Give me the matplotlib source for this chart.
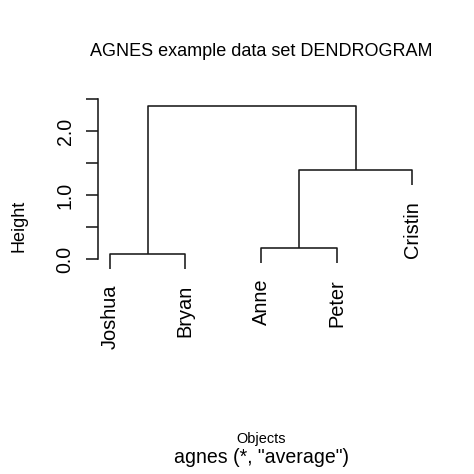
import matplotlib
matplotlib.use('Agg')
import matplotlib.pyplot as plt
import numpy as np

plt.rcParams['font.family'] = ['Liberation Sans', 'DejaVu Sans']

labels = ['Joshua', 'Bryan', 'Anne', 'Peter', 'Cristin']
# merge steps as in R's hclust: negative = leaf (1-based), positive = earlier step
merge = [(-1, -2), (-3, -4), (2, -5), (1, 3)]
heights = [0.08, 0.17, 1.39, 2.39]
hang = 0.23
yticks = [0.0, 0.5, 1.0, 1.5, 2.0, 2.5]
ytick_labels = ['0.0', '', '1.0', '', '2.0', '']

title = 'AGNES example data set DENDROGRAM'
xlab = 'Objects'
ylab = 'Height'
sub = 'agnes (*, "average")'

W = 474
fig = plt.figure(figsize=(W / 72, W / 72), dpi=72)
ax = fig.add_axes([97.6 / W, 1 - 353 / W, (424.4 - 97.6) / W, (353 - 99.3) / W])

lc = '#1a1a1a'
lw = 1.6
leafx = np.arange(1, len(labels) + 1)
nodex, nodey = {}, {}
leafbottom = {}
for i, (a, b) in enumerate(merge):
    h = heights[i]
    xs, ys = [], []
    for c in (a, b):
        if c < 0:
            x = leafx[-c - 1]
            y = h - hang
            leafbottom[-c - 1] = (x, y)
        else:
            x = nodex[c - 1]
            y = nodey[c - 1]
        xs.append(x)
        ys.append(y)
    ax.plot([xs[0], xs[0], xs[1], xs[1]], [ys[0], h, h, ys[1]], color=lc, lw=lw,
            solid_capstyle='butt', clip_on=False)
    nodex[i] = np.mean(xs)
    nodey[i] = h

for k, name in enumerate(labels):
    x, y = leafbottom[k]
    ax.annotate(name, (x, y), xytext=(0, -16), textcoords='offset points',
                rotation=90, ha='center', va='top', fontsize=20, color='black')

n = len(labels)
ax.set_xlim(1 - 0.04 * (n - 1), n + 0.04 * (n - 1))
ax.set_ylim(-1.47, 2.5)

for s in ['top', 'right', 'bottom']:
    ax.spines[s].set_visible(False)
ax.spines['left'].set_bounds(0, 2.5)
ax.spines['left'].set_linewidth(lw)
ax.spines['left'].set_color(lc)
ax.set_xticks([])
ax.set_yticks(yticks)
ax.set_yticklabels(ytick_labels, rotation=90, va='center', fontsize=19.5)
ax.tick_params(axis='y', length=12, width=lw, color=lc, pad=11)
ax.set_ylabel(ylab, fontsize=18, labelpad=28)
ax.set_title(title, fontsize=18, pad=43)
ax.patch.set_visible(False)

cx = (97.6 + 424.4) / 2 / W
fig.text(cx, 1 - 443 / W, xlab, ha='center', va='baseline', fontsize=14.5)
fig.text(cx, 1 - 463 / W, sub, ha='center', va='baseline', fontsize=19.5)

fig.savefig('out.png', dpi=72)
